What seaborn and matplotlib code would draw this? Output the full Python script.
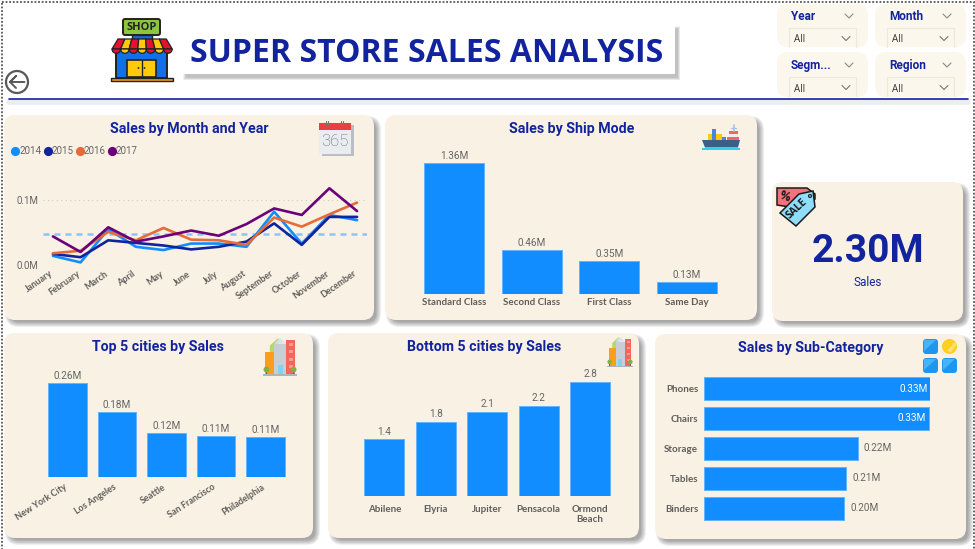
import matplotlib
matplotlib.use("Agg")
import matplotlib.pyplot as plt
from matplotlib.lines import Line2D
from matplotlib.patches import Circle, FancyBboxPatch, Polygon, Rectangle, Wedge
from matplotlib.transforms import ScaledTranslation
import pandas as pd
import seaborn as sns

months = ["January", "February", "March", "April", "May", "June", "July",
          "August", "September", "October", "November", "December"]
sales_2014 = [0.014, 0.004, 0.055, 0.028, 0.023, 0.033, 0.033, 0.028, 0.082, 0.033, 0.077, 0.069]
sales_2015 = [0.017, 0.012, 0.038, 0.034, 0.030, 0.024, 0.028, 0.036, 0.064, 0.031, 0.074, 0.074]
sales_2016 = [0.018, 0.022, 0.051, 0.038, 0.057, 0.039, 0.038, 0.031, 0.073, 0.059, 0.078, 0.096]
sales_2017 = [0.044, 0.020, 0.058, 0.036, 0.044, 0.053, 0.045, 0.063, 0.087, 0.077, 0.118, 0.083]
years = ["2014", "2015", "2016", "2017"]
avg_sales = 0.047

ship_modes = ["Standard Class", "Second Class", "First Class", "Same Day"]
ship_sales = [1.36, 0.46, 0.35, 0.13]

top_cities = ["New York City", "Los Angeles", "Seattle", "San Francisco", "Philadelphia"]
top_sales = [0.26, 0.178, 0.12, 0.114, 0.11]

bottom_cities = ["Abilene", "Elyria", "Jupiter", "Pensacola", "Ormond\nBeach"]
bottom_sales = [1.392, 1.824, 2.064, 2.214, 2.808]

sub_categories = ["Phones", "Chairs", "Storage", "Tables", "Binders"]
sub_sales = [0.33, 0.328, 0.224, 0.207, 0.204]

slicers = ["Year", "Month", "Segm...", "Region"]

W, H = 975, 549
BLUE = "#118DFF"
NAVY = "#12239E"
ORANGE = "#E66C37"
PURPLE = "#6B007B"
CARD = "#F9F1E3"
GREY = "#605E5C"
TITLE_FONT = "Roboto"
LABEL_FONT = "Open Sans"
TICK_FONT = "Lato"

sns.set_theme(style="white")
plt.rcParams["font.family"] = ["Roboto", "DejaVu Sans"]

fig = plt.figure(figsize=(W / 100, H / 100), dpi=100, facecolor="white")
bg = fig.add_axes([0, 0, 1, 1], zorder=0)
bg.set_xlim(0, W)
bg.set_ylim(H, 0)
bg.axis("off")


def panel_axes(left, top, right, bottom):
    ax = fig.add_axes([left / W, 1 - bottom / H, (right - left) / W, (bottom - top) / H], zorder=2)
    ax.patch.set_alpha(0)
    sns.despine(ax=ax, left=True, bottom=True)
    return ax


def card(x0, y0, x1, y1, color=CARD, shadow=True, radius=11):
    if shadow:
        # soft shadow, falls to the lower right
        for i in range(6):
            bg.add_patch(FancyBboxPatch((x0 + radius + 4, y0 + radius + 4), x1 - x0 - 2 * radius, y1 - y0 - 2 * radius,
                                        boxstyle=f"round,pad={radius + 3 - i}",
                                        fc="#000000", ec="none", alpha=0.065))
    bg.add_patch(FancyBboxPatch((x0 + radius, y0 + radius), x1 - x0 - 2 * radius, y1 - y0 - 2 * radius,
                                boxstyle=f"round,pad={radius}", fc=color, ec="none"))


def chevron(x, y, size=4, color="#8A8A8A"):
    bg.plot([x - size, x, x + size], [y - size * 0.5, y + size * 0.5, y - size * 0.5],
            color=color, lw=0.8, solid_capstyle="round")


def style_bars(ax):
    for patch in ax.patches:
        patch.set_edgecolor("#62B3FF")
        patch.set_linewidth(0.7)


def style_ticks(ax, axis="x", rotation=0, size=7.0):
    labels = ax.get_xticklabels() if axis == "x" else ax.get_yticklabels()
    for tick in labels:
        tick.set(fontsize=size, fontweight="bold", family=TICK_FONT)
        if rotation:
            tick.set(rotation=rotation, ha="right", rotation_mode="anchor")
            tick.set_transform(tick.get_transform() + ScaledTranslation(-0.04, 0, fig.dpi_scale_trans))


def city_icon(x, y, w, h):
    def box(a, b, c, d, color):
        bg.add_patch(Rectangle((x + a * w, y + b * h), (c - a) * w, (d - b) * h, fc=color, ec="none"))
    bg.add_patch(Polygon([(x + 0.2 * w, y + 0.2 * h), (x + 0.45 * w, y), (x + 0.45 * w, y + 0.5 * h),
                          (x + 0.2 * w, y + 0.5 * h)], fc="#B5D86A", ec="none"))
    box(0.06, 0.37, 0.33, 0.97, "#F9A01B")
    box(0.68, 0.06, 0.94, 0.97, "#F4665C")
    box(0.33, 0.15, 0.68, 0.97, "#C9CED6")
    bg.add_patch(Polygon([(x + 0.33 * w, y + 0.15 * h), (x + 0.5 * w, y), (x + 0.68 * w, y + 0.15 * h)],
                         fc="#DDE1E6", ec="none"))
    box(0.43, 0.72, 0.58, 0.97, "#7FD4EE")
    for i in range(4):
        box(0.75, 0.12 + i * 0.2, 0.88, 0.2 + i * 0.2, "#F99A92")
    for cx in (0.1, 0.9):
        bg.add_patch(Rectangle((x + (cx - 0.01) * w, y + 0.85 * h), 0.03 * w, 0.12 * h, fc="#7A5A30", ec="none"))
        bg.add_patch(Circle((x + cx * w, y + 0.83 * h), 0.085 * w, fc="#7CB342", ec="none"))
    box(0, 0.96, 1, 1, "#AEB4BC")


def shop_icon():
    bg.add_patch(FancyBboxPatch((125, 21), 33, 12, boxstyle="round,pad=2", fc="#8CC63F", ec="#222222", lw=1.4, zorder=5))
    bg.text(141.5, 27, "SHOP", ha="center", va="center", fontsize=8, fontweight="bold", color="#222222",
            zorder=6, family=LABEL_FONT)
    bg.add_patch(Rectangle((132, 35), 20, 4, fc="#1170E8", ec="#222222", lw=1))
    bg.add_patch(Rectangle((116, 50), 51, 28, fc="#1170E8", ec="#222222", lw=1.4))
    bg.add_patch(Rectangle((127, 60), 29, 17, fc="#FFC90E", ec="#222222", lw=1.2))
    bg.plot([141.5, 141.5], [60, 77], color="#222222", lw=1)
    bg.add_patch(Circle((138.5, 68), 0.9, fc="#222222", ec="none"))
    bg.add_patch(Circle((144.5, 68), 0.9, fc="#222222", ec="none"))
    colors = ["#E8112D", "#FFC90E"] * 3 + ["#E8112D"]
    for i in range(7):
        left = 112 + i * 8.6
        top_left = 118 + i * 6.9
        bg.add_patch(Polygon([(top_left, 39), (top_left + 6.9, 39), (left + 8.6, 49), (left, 49)],
                             fc=colors[i], ec="#222222", lw=0.9, zorder=3))
        bg.add_patch(Wedge((left + 4.3, 49), 4.3, 0, 180, fc=colors[i], ec="#222222", lw=0.9, zorder=3))
    bg.add_patch(Rectangle((110.5, 77.5), 62, 3.5, fc="#F59A23", ec="#222222", lw=1))


def calendar_icon():
    bg.add_patch(Rectangle((322, 125), 32, 31, fc="#B9BEC4", ec="none"))
    bg.add_patch(Rectangle((319, 123), 32, 31, fc="#E9EDF0", ec="none"))
    bg.add_patch(Rectangle((319, 123), 32, 7, fc="#E8403F", ec="none"))
    for cx in (327, 342):
        bg.plot([cx - 1, cx - 1], [121, 125], color="#777777", lw=0.8)
        bg.plot([cx + 1, cx + 1], [121, 125], color="#777777", lw=0.8)
    bg.text(335, 142, "365", ha="center", va="center", fontsize=12, color="#6B7078", family="Roboto", fontweight="light")


def ship_icon():
    bg.add_patch(Rectangle((708, 134), 14, 7, fc="#FFC90E", ec="none"))
    bg.add_patch(Rectangle((712, 129), 4, 11, fc="#4F80E8", ec="none"))
    bg.add_patch(Rectangle((722, 137), 4, 4, fc="#4F80E8", ec="none"))
    bg.add_patch(Rectangle((729, 131), 9, 9, fc="#E9EDF0", ec="none"))
    bg.add_patch(Rectangle((729, 131), 9, 2.5, fc="#F4665C", ec="none"))
    bg.add_patch(Rectangle((727, 137), 12, 3, fc="#F4665C", ec="none"))
    bg.plot([733.5, 733.5], [125, 131], color="#A9C4DE", lw=1.2)
    bg.plot([731, 736], [127.5, 127.5], color="#A9C4DE", lw=1)
    bg.add_patch(Polygon([(702, 140), (740, 140), (738, 147.5), (705, 147.5)], fc="#3E5F85", ec="none"))
    bg.add_patch(Rectangle((702, 147.5), 38, 2.5, fc="#2FD0F5", ec="none"))


def tags_icon():
    bg.add_patch(Polygon([(777, 188), (807, 188), (815, 194), (815, 199), (796, 208), (777, 205)],
                         fc="#F7707D", ec="#1A1A1A", lw=1.1))
    bg.text(785, 197, "%", ha="center", va="center", fontsize=8.5, fontweight="bold", color="#1A1A1A",
            rotation=-20, family=LABEL_FONT)
    bg.add_patch(Polygon([(813, 191), (815, 207), (796, 226), (780, 213), (799, 194)],
                         fc="#8FDDFB", ec="#1A1A1A", lw=1.1, zorder=3))
    bg.add_patch(Circle((810, 196), 1.4, fc="white", ec="#1A1A1A", lw=0.9, zorder=4))
    bg.text(797, 209, "SALE", ha="center", va="center", fontsize=7.5, fontweight="bold", color="#1A1A1A",
            rotation=43, family=LABEL_FONT, zorder=4)


def grid_icon():
    spots = [(923, 339, "#1E96F0"), (942, 339, None), (923, 358, "#1E96F0"), (942, 358, "#1E96F0")]
    for x, y, color in spots:
        if color is None:
            bg.add_patch(Circle((x + 7.5, y + 7.5), 7.5, fc="#FFCE1F", ec="none"))
            bg.add_patch(Polygon([(x + 5, y + 12), (x + 13, y + 3), (x + 14, y + 6), (x + 9, y + 13)],
                                 fc="#FFE27A", ec="none"))
            continue
        bg.add_patch(FancyBboxPatch((x + 3, y + 3), 9, 9, boxstyle="round,pad=3", fc=color, ec="none"))
        bg.add_patch(Polygon([(x + 1, y + 1), (x + 13, y + 1), (x + 1, y + 12)], fc="#46B4FA", ec="none"))


# page furniture
bg.add_patch(Rectangle((1.5, 1.5), 972.5, 560, fill=False, ec="#555555", lw=1.3, ls=(0, (1, 1))))
for i in range(6):
    bg.add_patch(Rectangle((180 + 3 + i * 0.5, 22 + 4 + i * 0.5), 495 + 2 - i, 52 + 2 - i, fc="#000000", ec="none", alpha=0.045))
bg.add_patch(Rectangle((180, 22), 495, 52, fc="white", ec="none"))
bg.text(427, 53, "SUPER STORE SALES ANALYSIS", ha="center", va="center", fontsize=23, fontweight="bold",
        color=NAVY, family=LABEL_FONT)
bg.plot([9, 968], [102, 102], color="#000000", alpha=0.07, lw=4)
bg.plot([9, 968], [99, 99], color=NAVY, lw=1.2)
bg.add_patch(Circle((17, 82), 11, fc="none", ec="#595959", lw=1.6))
bg.plot([24.5, 10, 16, 10, 16], [82, 82, 76, 82, 88], color="#595959", lw=1.4, solid_capstyle="round")
shop_icon()

# slicers
for i, name in enumerate(slicers):
    dx = 98 * (i % 2)
    dy = 49 * (i // 2)
    card(777 + dx, 4 + dy - (i // 2) * 1, 868 + dx, 47 + dy + (i // 2) * 1, color="#FBF7EC", shadow=False)
    bg.text(791 + dx, 16 + dy, name, ha="left", va="center", fontsize=8.5, fontweight="bold", color=NAVY, family=TITLE_FONT)
    chevron(849 + dx, 16 + dy)
    bg.plot([789 + dx, 789 + dx, 856 + dx, 856 + dx], [47 + dy, 28 + dy, 28 + dy, 47 + dy], color="#EFE9DC", lw=0.9)
    bg.text(794 + dx, 40 + dy, "All", ha="left", va="center", fontsize=7, color="#333333", family=LABEL_FONT)
    chevron(846 + dx, 38.5 + dy, color="#777777")

# cards
card(4, 115, 374, 320)
card(385, 115, 757, 320)
card(772, 182, 963, 321)
card(4, 333, 313, 538)
card(328, 333, 639, 538)
card(655, 334, 966, 539)

for text, x, y in [("Sales by Month and Year", 189, 129), ("Sales by Ship Mode", 572, 129),
                   ("Top 5 cities by Sales", 158, 347), ("Bottom 5 cities by Sales", 484, 347),
                   ("Sales by Sub-Category", 811, 348)]:
    bg.text(x, y, text, ha="center", va="center", fontsize=10.2, fontweight="bold", color=NAVY, family=TITLE_FONT)

calendar_icon()
ship_icon()
tags_icon()
city_icon(263, 338, 34, 38)
city_icon(607, 337, 26, 30)
grid_icon()

# KPI
bg.text(868, 251, "2.30M", ha="center", va="center", fontsize=28, fontweight="bold", color=NAVY, family=TITLE_FONT)
bg.text(868, 282, "Sales", ha="center", va="center", fontsize=8.5, color=NAVY, family=TITLE_FONT)

# line chart
line_df = pd.DataFrame({
    "Month": months * 4,
    "Sales": sales_2014 + sales_2015 + sales_2016 + sales_2017,
    "Year": [y for y in years for _ in months],
})
palette = dict(zip(years, [BLUE, NAVY, ORANGE, PURPLE]))
ax = panel_axes(43, 180, 367, 265)
sns.lineplot(data=line_df, x="Month", y="Sales", hue="Year", palette=palette, sort=False, linewidth=1.9,
             legend=False, ax=ax, clip_on=False)
ax.set_xlim(-0.36, 11.36)
ax.set_ylim(0, 85 / 650)
ax.set_yticks([0, 0.1], ["0.0M", "0.1M"])
ax.axhline(avg_sales, color="#8CC4F8", lw=1.8, ls=(0, (2.4, 2)), zorder=1)
ax.grid(axis="y", color="#CFCBC4", lw=0.8, ls=(0, (1, 3)))
ax.set_xlabel("")
ax.set_ylabel("")
ax.tick_params(axis="x", length=0, pad=3, labelcolor=GREY)
ax.tick_params(axis="y", length=0, pad=3, labelcolor="#666666", labelsize=7)
style_ticks(ax, rotation=35, size=6.5)
handles = [Line2D([], [], ls="none", marker="o", ms=5.6, color=palette[y], label=y) for y in years]
ax.legend(handles=handles, ncol=4, frameon=False, loc="center left", bbox_to_anchor=(10.5, 151.5),
          bbox_transform=bg.transData, fontsize=7, labelcolor="#666666", handletextpad=-0.1,
          columnspacing=0.15, borderpad=0, borderaxespad=0, handlelength=1)

# ship mode
ax = panel_axes(415.35, 163.3, 725.75, 294.3)
sns.barplot(x=ship_modes, y=ship_sales, color=BLUE, saturation=1, width=0.77, ax=ax)
style_bars(ax)
ax.set_ylim(0, 1.36)
ax.set_yticks([])
ax.tick_params(axis="x", length=0, pad=3, labelcolor=GREY)
style_ticks(ax)
ax.bar_label(ax.containers[0], fmt="%.2fM", padding=1.5, fontsize=7.2, color="#666666")

# top cities
ax = panel_axes(42.75, 382.7, 290.25, 477)
sns.barplot(x=top_cities, y=top_sales, color=BLUE, saturation=1, width=0.78, ax=ax)
style_bars(ax)
ax.set_ylim(0, 0.26)
ax.set_yticks([])
ax.tick_params(axis="x", length=0, pad=4, labelcolor=GREY)
style_ticks(ax, rotation=33, size=6.5)
ax.bar_label(ax.containers[0], fmt="%.2fM", padding=1.5, fontsize=7.2, color="#666666")

# bottom cities
ax = panel_axes(358.6, 382, 615.8, 496)
sns.barplot(x=bottom_cities, y=bottom_sales, color=BLUE, saturation=1, width=0.777, ax=ax)
style_bars(ax)
ax.set_ylim(0, 2.808)
ax.set_yticks([])
ax.tick_params(axis="x", length=0, pad=6.5, labelcolor=GREY)
style_ticks(ax)
ax.bar_label(ax.containers[0], fmt="%.1f", padding=2, fontsize=7.2, color="#666666")

# sub-category
ax = panel_axes(704.3, 373.55, 930, 523.05)
sns.barplot(y=sub_categories, x=sub_sales, color=BLUE, saturation=1, width=0.77, orient="h", ax=ax)
style_bars(ax)
ax.set_xlim(0, 0.33)
ax.set_xticks([])
ax.tick_params(axis="y", length=0, pad=4.5, labelcolor=GREY)
style_ticks(ax, axis="y")
inside = [f"{v:.2f}M" if v > 0.3 else "" for v in sub_sales]
outside = [f"{v:.2f}M" if v <= 0.3 else "" for v in sub_sales]
ax.bar_label(ax.containers[0], labels=inside, label_type="edge", padding=-22.3, fontsize=7.2, color="white")
ax.bar_label(ax.containers[0], labels=outside, label_type="edge", padding=4.5, fontsize=7.2, color="#666666")

fig.savefig("out.png", dpi=100, facecolor="white")
